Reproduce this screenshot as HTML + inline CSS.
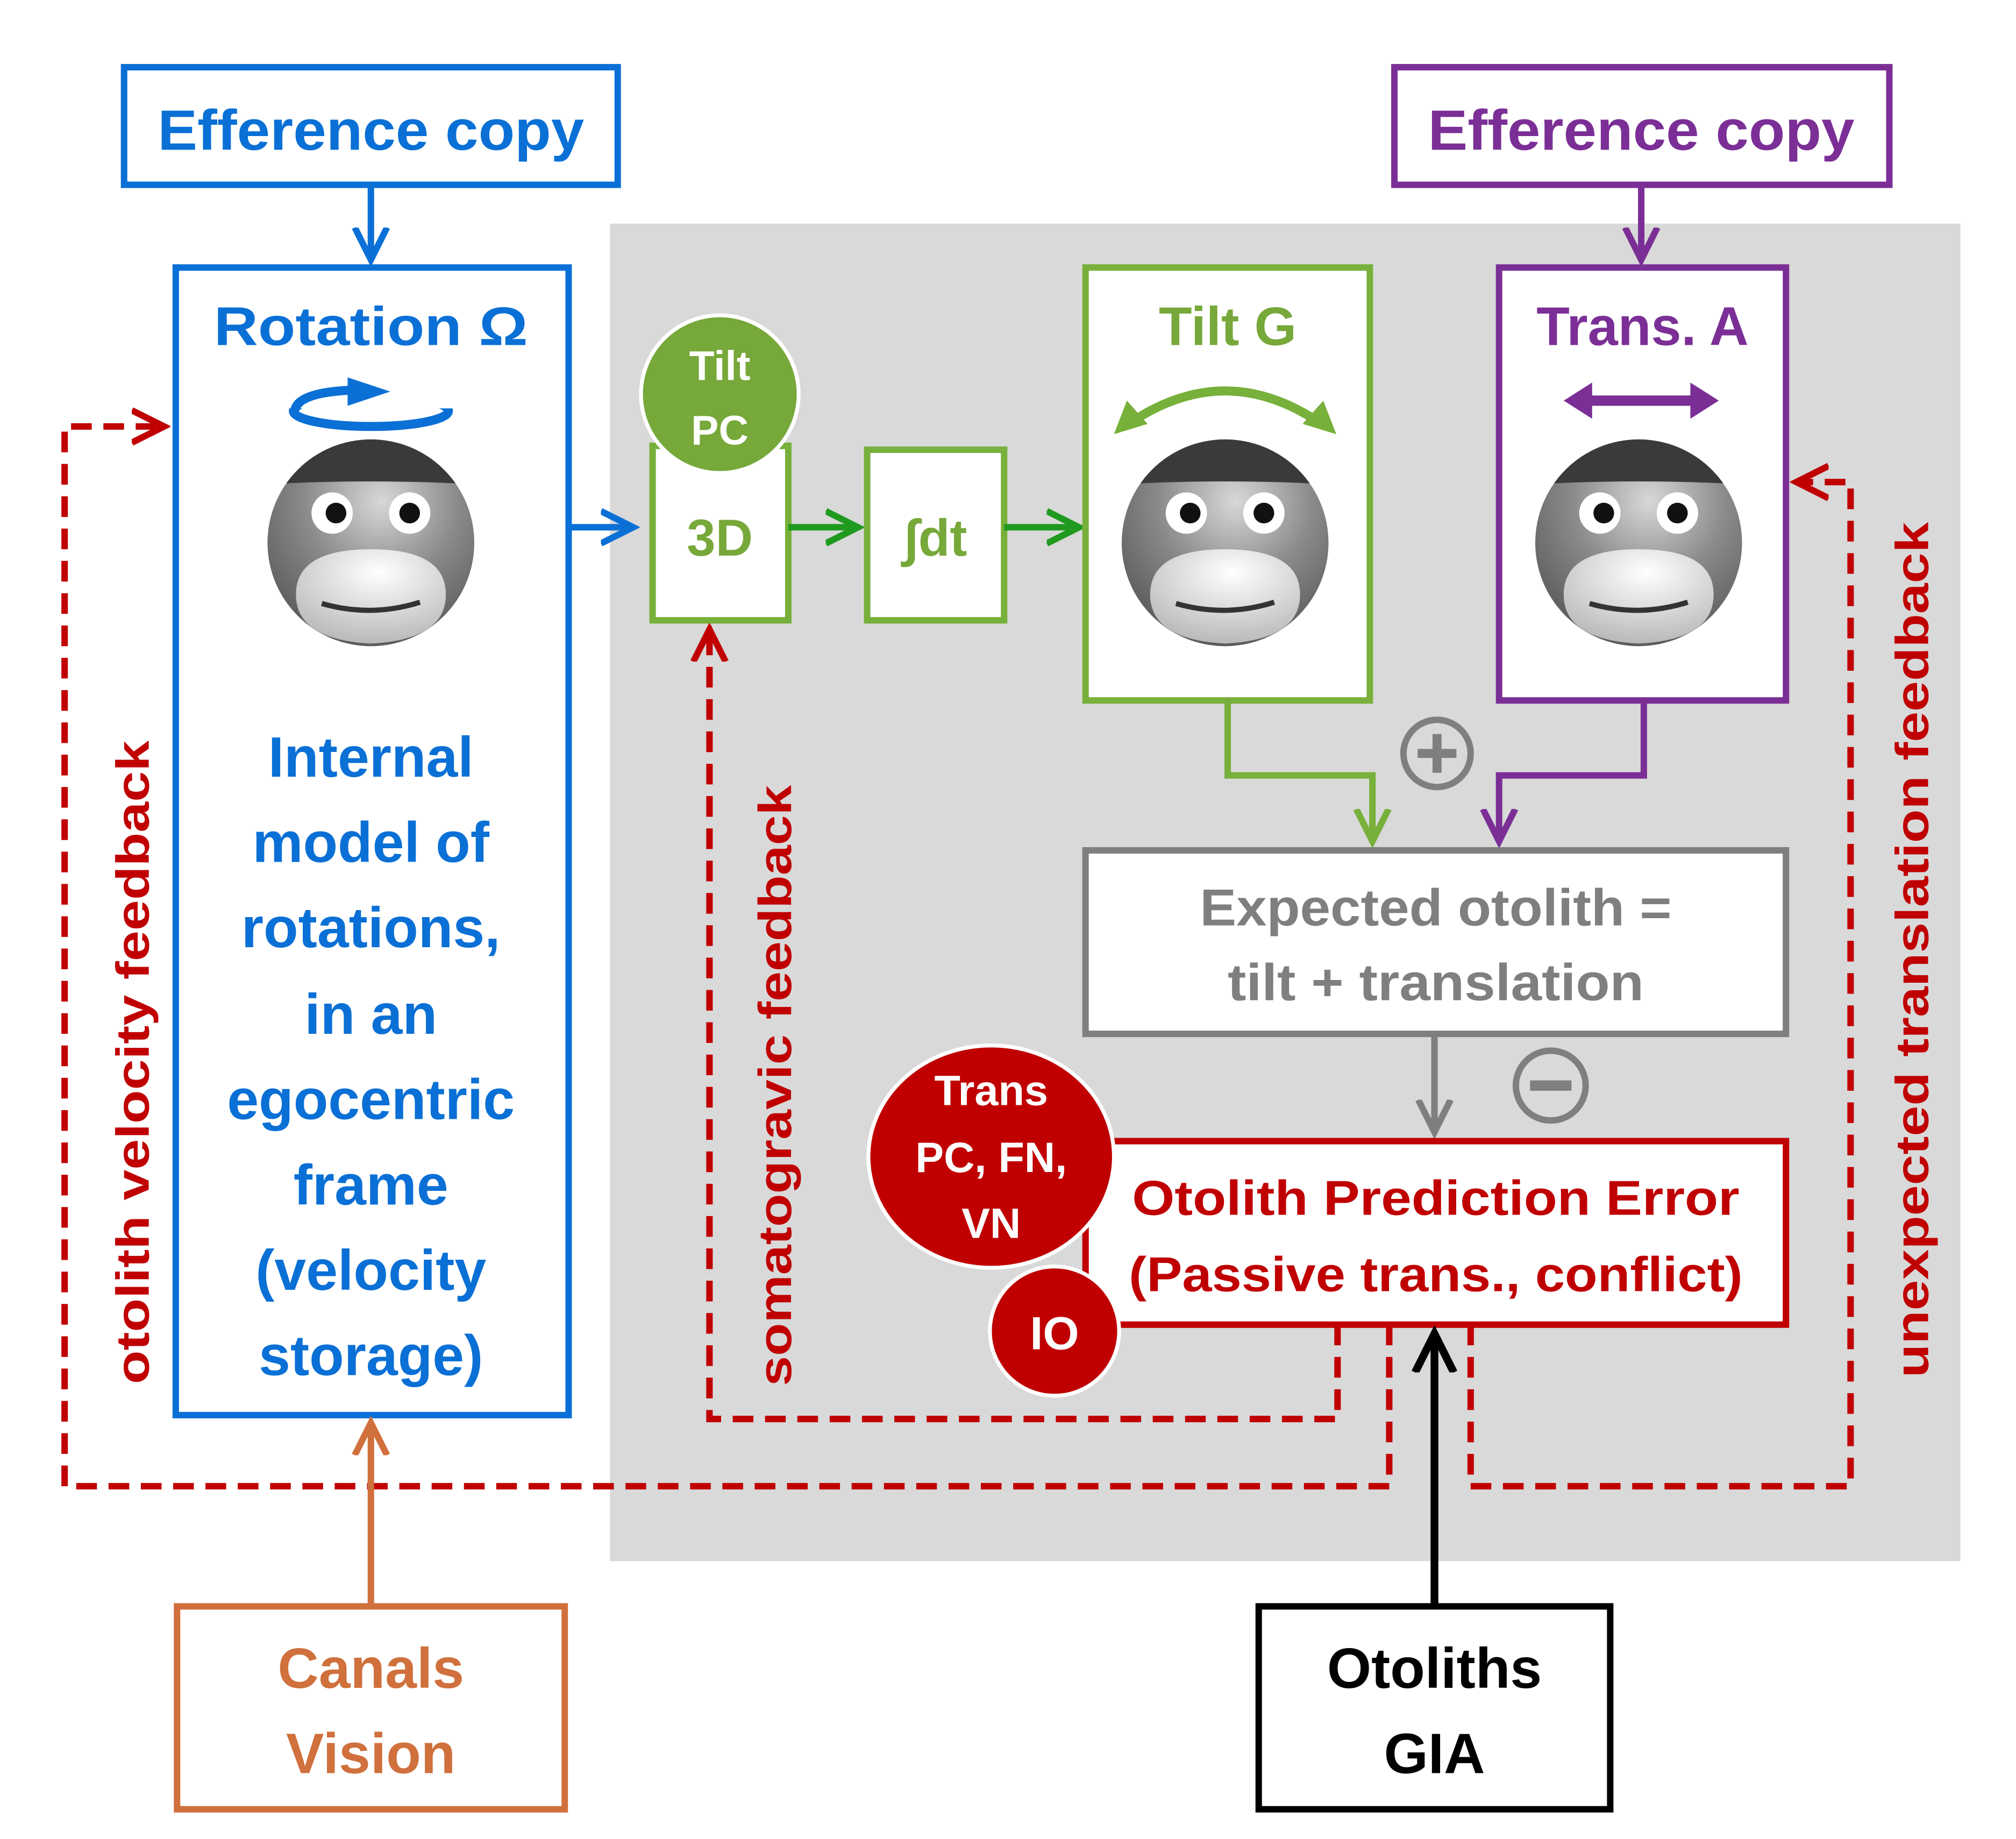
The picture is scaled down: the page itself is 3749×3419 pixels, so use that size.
<!DOCTYPE html>
<html><head><meta charset="utf-8"><style>html,body{margin:0;padding:0;background:#fff}svg{display:block}text{font-family:"Liberation Sans",sans-serif;font-weight:bold}</style></head><body>
<svg width="3749" height="3419" viewBox="0 0 1560 1423" preserveAspectRatio="none" xmlns="http://www.w3.org/2000/svg">
<defs>
<radialGradient id="hg" cx="0.55" cy="0.3" r="0.75"><stop offset="0" stop-color="#d8d8d8"/><stop offset="0.5" stop-color="#8a8a8a"/><stop offset="1" stop-color="#555"/></radialGradient>
<radialGradient id="mg" cx="0.55" cy="0.25" r="0.8"><stop offset="0" stop-color="#fff"/><stop offset="1" stop-color="#b5b5b5"/></radialGradient>
<clipPath id="fc"><circle cx="0" cy="0" r="80"/></clipPath>
<g id="face">
<circle cx="0" cy="0" r="80" fill="url(#hg)"/>
<path d="M-85,-45 Q0,-50 85,-45 L85,-90 L-85,-90Z" fill="#3a3a3a" clip-path="url(#fc)"/>
<circle cx="-30" cy="-23" r="16" fill="#fff"/><circle cx="-27" cy="-23" r="8" fill="#111"/>
<circle cx="30" cy="-23" r="16" fill="#fff"/><circle cx="30" cy="-23" r="8" fill="#111"/>
<path d="M-58,40 Q-58,5 0,5 Q58,5 58,40 Q58,75 0,78 Q-58,75 -58,40Z" fill="url(#mg)"/>
<path d="M-38,47 Q0,58 38,46" stroke="#333" stroke-width="4" fill="none"/>
</g>
<marker id="ab" markerWidth="6" markerHeight="6" refX="5" refY="3" orient="auto" markerUnits="strokeWidth"><path d="M0,0.5 L5,3 L0,5.5" fill="none" stroke="#0a70d6" stroke-width="1"/></marker>
<marker id="ap" markerWidth="6" markerHeight="6" refX="5" refY="3" orient="auto" markerUnits="strokeWidth"><path d="M0,0.5 L5,3 L0,5.5" fill="none" stroke="#7b2f96" stroke-width="1"/></marker>
<marker id="ag" markerWidth="6" markerHeight="6" refX="5" refY="3" orient="auto" markerUnits="strokeWidth"><path d="M0,0.5 L5,3 L0,5.5" fill="none" stroke="#1f9a1f" stroke-width="1"/></marker>
<marker id="alg" markerWidth="6" markerHeight="6" refX="5" refY="3" orient="auto" markerUnits="strokeWidth"><path d="M0,0.5 L5,3 L0,5.5" fill="none" stroke="#77b03a" stroke-width="1"/></marker>
<marker id="agr" markerWidth="6" markerHeight="6" refX="5" refY="3" orient="auto" markerUnits="strokeWidth"><path d="M0,0.5 L5,3 L0,5.5" fill="none" stroke="#7f7f7f" stroke-width="1"/></marker>
<marker id="ar" markerWidth="6" markerHeight="6" refX="5" refY="3" orient="auto" markerUnits="strokeWidth"><path d="M0,0.5 L5,3 L0,5.5" fill="none" stroke="#c00000" stroke-width="1"/></marker>
<marker id="ak" markerWidth="6" markerHeight="6" refX="5" refY="3" orient="auto" markerUnits="strokeWidth"><path d="M0,0.5 L5,3 L0,5.5" fill="none" stroke="#000" stroke-width="1"/></marker>
<marker id="ao" markerWidth="6" markerHeight="6" refX="5" refY="3" orient="auto" markerUnits="strokeWidth"><path d="M0,0.5 L5,3 L0,5.5" fill="none" stroke="#d0703c" stroke-width="1"/></marker>
</defs>
<rect width="1560" height="1423" fill="#fff"/>
<rect x="472" y="173" width="1045" height="1035" fill="#d9d9d9"/>

<!-- dashed red feedback -->
<g fill="none" stroke="#c00000" stroke-width="5" stroke-dasharray="16,9">
<path d="M1035,1025 V1098 H549 V487" marker-end="url(#ar)"/>
<path d="M1075,1025 V1150 H50 V330 H127" marker-end="url(#ar)"/>
<path d="M1138,1025 V1150 H1432 V373 H1390" marker-end="url(#ar)"/>
</g>
<text transform="translate(612,840) rotate(-90)" text-anchor="middle" font-size="36" fill="#c00000" textLength="465" lengthAdjust="spacingAndGlyphs">somatogravic feedback</text>
<text transform="translate(115,822) rotate(-90)" text-anchor="middle" font-size="36" fill="#c00000" textLength="498" lengthAdjust="spacingAndGlyphs">otolith velocity feedback</text>
<text transform="translate(1492,735) rotate(-90)" text-anchor="middle" font-size="36" fill="#c00000" textLength="662" lengthAdjust="spacingAndGlyphs">unexpected translation feedback</text>

<!-- Efference copy blue -->
<rect x="96" y="52" width="382" height="91" fill="#fff" stroke="#0a70d6" stroke-width="5"/>
<text x="287" y="116" text-anchor="middle" font-size="44" fill="#0a70d6" textLength="330" lengthAdjust="spacingAndGlyphs">Efference copy</text>
<line x1="287" y1="143" x2="287" y2="201" stroke="#0a70d6" stroke-width="5" marker-end="url(#ab)"/>

<!-- Rotation box -->
<rect x="136" y="207" width="304" height="888" fill="#fff" stroke="#0a70d6" stroke-width="5"/>
<text x="287" y="267" text-anchor="middle" font-size="42" fill="#0a70d6" textLength="243" lengthAdjust="spacingAndGlyphs">Rotation Ω</text>
<ellipse cx="287" cy="318" rx="60" ry="12" fill="none" stroke="#0a70d6" stroke-width="7"/>
<rect x="224" y="290" width="128" height="26" fill="#fff"/>
<path d="M228,318 Q230,304 270,302" stroke="#0a70d6" stroke-width="7" fill="none"/>
<path d="M269,292 L302,303 L269,314Z" fill="#0a70d6"/>
<use href="#face" x="287" y="420"/>
<g font-size="44" fill="#0a70d6" text-anchor="middle">
<text x="287" y="601">Internal</text>
<text x="287" y="667">model of</text>
<text x="287" y="733">rotations,</text>
<text x="287" y="800">in an</text>
<text x="287" y="866">egocentric</text>
<text x="287" y="932">frame</text>
<text x="287" y="998">(velocity</text>
<text x="287" y="1064">storage)</text>
</g>
<line x1="440" y1="408" x2="490" y2="408" stroke="#0a70d6" stroke-width="5" marker-end="url(#ab)"/>

<!-- 3D -->
<rect x="505" y="345" width="105" height="135" fill="#fff" stroke="#77b03a" stroke-width="5"/>
<text x="557" y="430" text-anchor="middle" font-size="40" fill="#77a83a">3D</text>
<circle cx="557" cy="305" r="61" fill="#76a83a" stroke="#fff" stroke-width="3"/>
<text x="557" y="294" text-anchor="middle" font-size="32" fill="#fff">Tilt</text>
<text x="557" y="344" text-anchor="middle" font-size="32" fill="#fff">PC</text>
<line x1="610" y1="408" x2="664" y2="408" stroke="#1f9a1f" stroke-width="5" marker-end="url(#ag)"/>
<rect x="671" y="348" width="106" height="132" fill="#fff" stroke="#77b03a" stroke-width="5"/>
<text x="724" y="430" text-anchor="middle" font-size="40" fill="#77a83a">∫dt</text>
<line x1="777" y1="408" x2="835" y2="408" stroke="#1f9a1f" stroke-width="5" marker-end="url(#ag)"/>

<!-- Tilt G -->
<rect x="840" y="207" width="220" height="335" fill="#fff" stroke="#77b03a" stroke-width="5"/>
<text x="950" y="267" text-anchor="middle" font-size="42" fill="#77a83a">Tilt G</text>
<path d="M878,325 Q948,280 1018,325" stroke="#77b03a" stroke-width="7" fill="none"/>
<path d="M862,336 L872,310 L888,328Z" fill="#77b03a"/>
<path d="M1034,336 L1024,310 L1008,328Z" fill="#77b03a"/>
<use href="#face" x="948" y="420"/>

<!-- Trans A -->
<rect x="1160" y="207" width="222" height="335" fill="#fff" stroke="#7b2f96" stroke-width="5"/>
<text x="1271" y="267" text-anchor="middle" font-size="42" fill="#7b2f96">Trans. A</text>
<line x1="1228" y1="310" x2="1312" y2="310" stroke="#7b2f96" stroke-width="8"/>
<path d="M1210,310 L1232,296 L1232,324Z" fill="#7b2f96"/>
<path d="M1330,310 L1308,296 L1308,324Z" fill="#7b2f96"/>
<use href="#face" x="1268" y="420"/>

<!-- Efference copy purple -->
<rect x="1079" y="52" width="383" height="91" fill="#fff" stroke="#7b2f96" stroke-width="5"/>
<text x="1270" y="116" text-anchor="middle" font-size="44" fill="#7b2f96" textLength="330" lengthAdjust="spacingAndGlyphs">Efference copy</text>
<line x1="1270" y1="143" x2="1270" y2="201" stroke="#7b2f96" stroke-width="5" marker-end="url(#ap)"/>

<!-- merge lines -->
<path d="M950,542 V600 H1062 V651" fill="none" stroke="#77b03a" stroke-width="5" marker-end="url(#alg)"/>
<path d="M1272,542 V600 H1160 V651" fill="none" stroke="#7b2f96" stroke-width="5" marker-end="url(#ap)"/>
<circle cx="1112" cy="583" r="26" fill="none" stroke="#7f7f7f" stroke-width="5"/>
<path d="M1097,583 H1127 M1112,568 V598" stroke="#7f7f7f" stroke-width="7"/>

<!-- Expected -->
<rect x="840" y="658" width="542" height="142" fill="#fff" stroke="#7f7f7f" stroke-width="5"/>
<text x="1111" y="716" text-anchor="middle" font-size="40" fill="#7f7f7f" textLength="365" lengthAdjust="spacingAndGlyphs">Expected otolith =</text>
<text x="1111" y="774" text-anchor="middle" font-size="40" fill="#7f7f7f" textLength="322" lengthAdjust="spacingAndGlyphs">tilt + translation</text>
<line x1="1110" y1="800" x2="1110" y2="876" stroke="#7f7f7f" stroke-width="5" marker-end="url(#agr)"/>
<circle cx="1200" cy="840" r="27" fill="none" stroke="#7f7f7f" stroke-width="5"/>
<path d="M1184,840 H1216" stroke="#7f7f7f" stroke-width="8"/>

<!-- Error box -->
<rect x="840" y="883" width="542" height="142" fill="#fff" stroke="#c00000" stroke-width="5"/>
<text x="1111" y="940" text-anchor="middle" font-size="38" fill="#c00000" textLength="470" lengthAdjust="spacingAndGlyphs">Otolith Prediction Error</text>
<text x="1111" y="999" text-anchor="middle" font-size="38" fill="#c00000" textLength="475" lengthAdjust="spacingAndGlyphs">(Passive trans., conflict)</text>
<ellipse cx="767" cy="895" rx="95" ry="86" fill="#c00000" stroke="#fff" stroke-width="3"/>
<text x="767" y="855" text-anchor="middle" font-size="33" fill="#fff">Trans</text>
<text x="767" y="907" text-anchor="middle" font-size="33" fill="#fff">PC, FN,</text>
<text x="767" y="958" text-anchor="middle" font-size="33" fill="#fff">VN</text>
<circle cx="816" cy="1030" r="50" fill="#c00000" stroke="#fff" stroke-width="3"/>
<text x="816" y="1044" text-anchor="middle" font-size="36" fill="#fff">IO</text>

<!-- Otoliths -->
<line x1="1110" y1="1243" x2="1110" y2="1032" stroke="#000" stroke-width="6" marker-end="url(#ak)"/>
<rect x="974" y="1243" width="272" height="157" fill="#fff" stroke="#000" stroke-width="5"/>
<text x="1110" y="1306" text-anchor="middle" font-size="44" fill="#000">Otoliths</text>
<text x="1110" y="1372" text-anchor="middle" font-size="44" fill="#000">GIA</text>

<!-- Canals -->
<line x1="287" y1="1243" x2="287" y2="1101" stroke="#d0703c" stroke-width="5" marker-end="url(#ao)"/>
<rect x="137" y="1243" width="300" height="157" fill="#fff" stroke="#d0703c" stroke-width="5"/>
<text x="287" y="1306" text-anchor="middle" font-size="44" fill="#d0703c">Canals</text>
<text x="287" y="1372" text-anchor="middle" font-size="44" fill="#d0703c">Vision</text>
</svg>
</body></html>
